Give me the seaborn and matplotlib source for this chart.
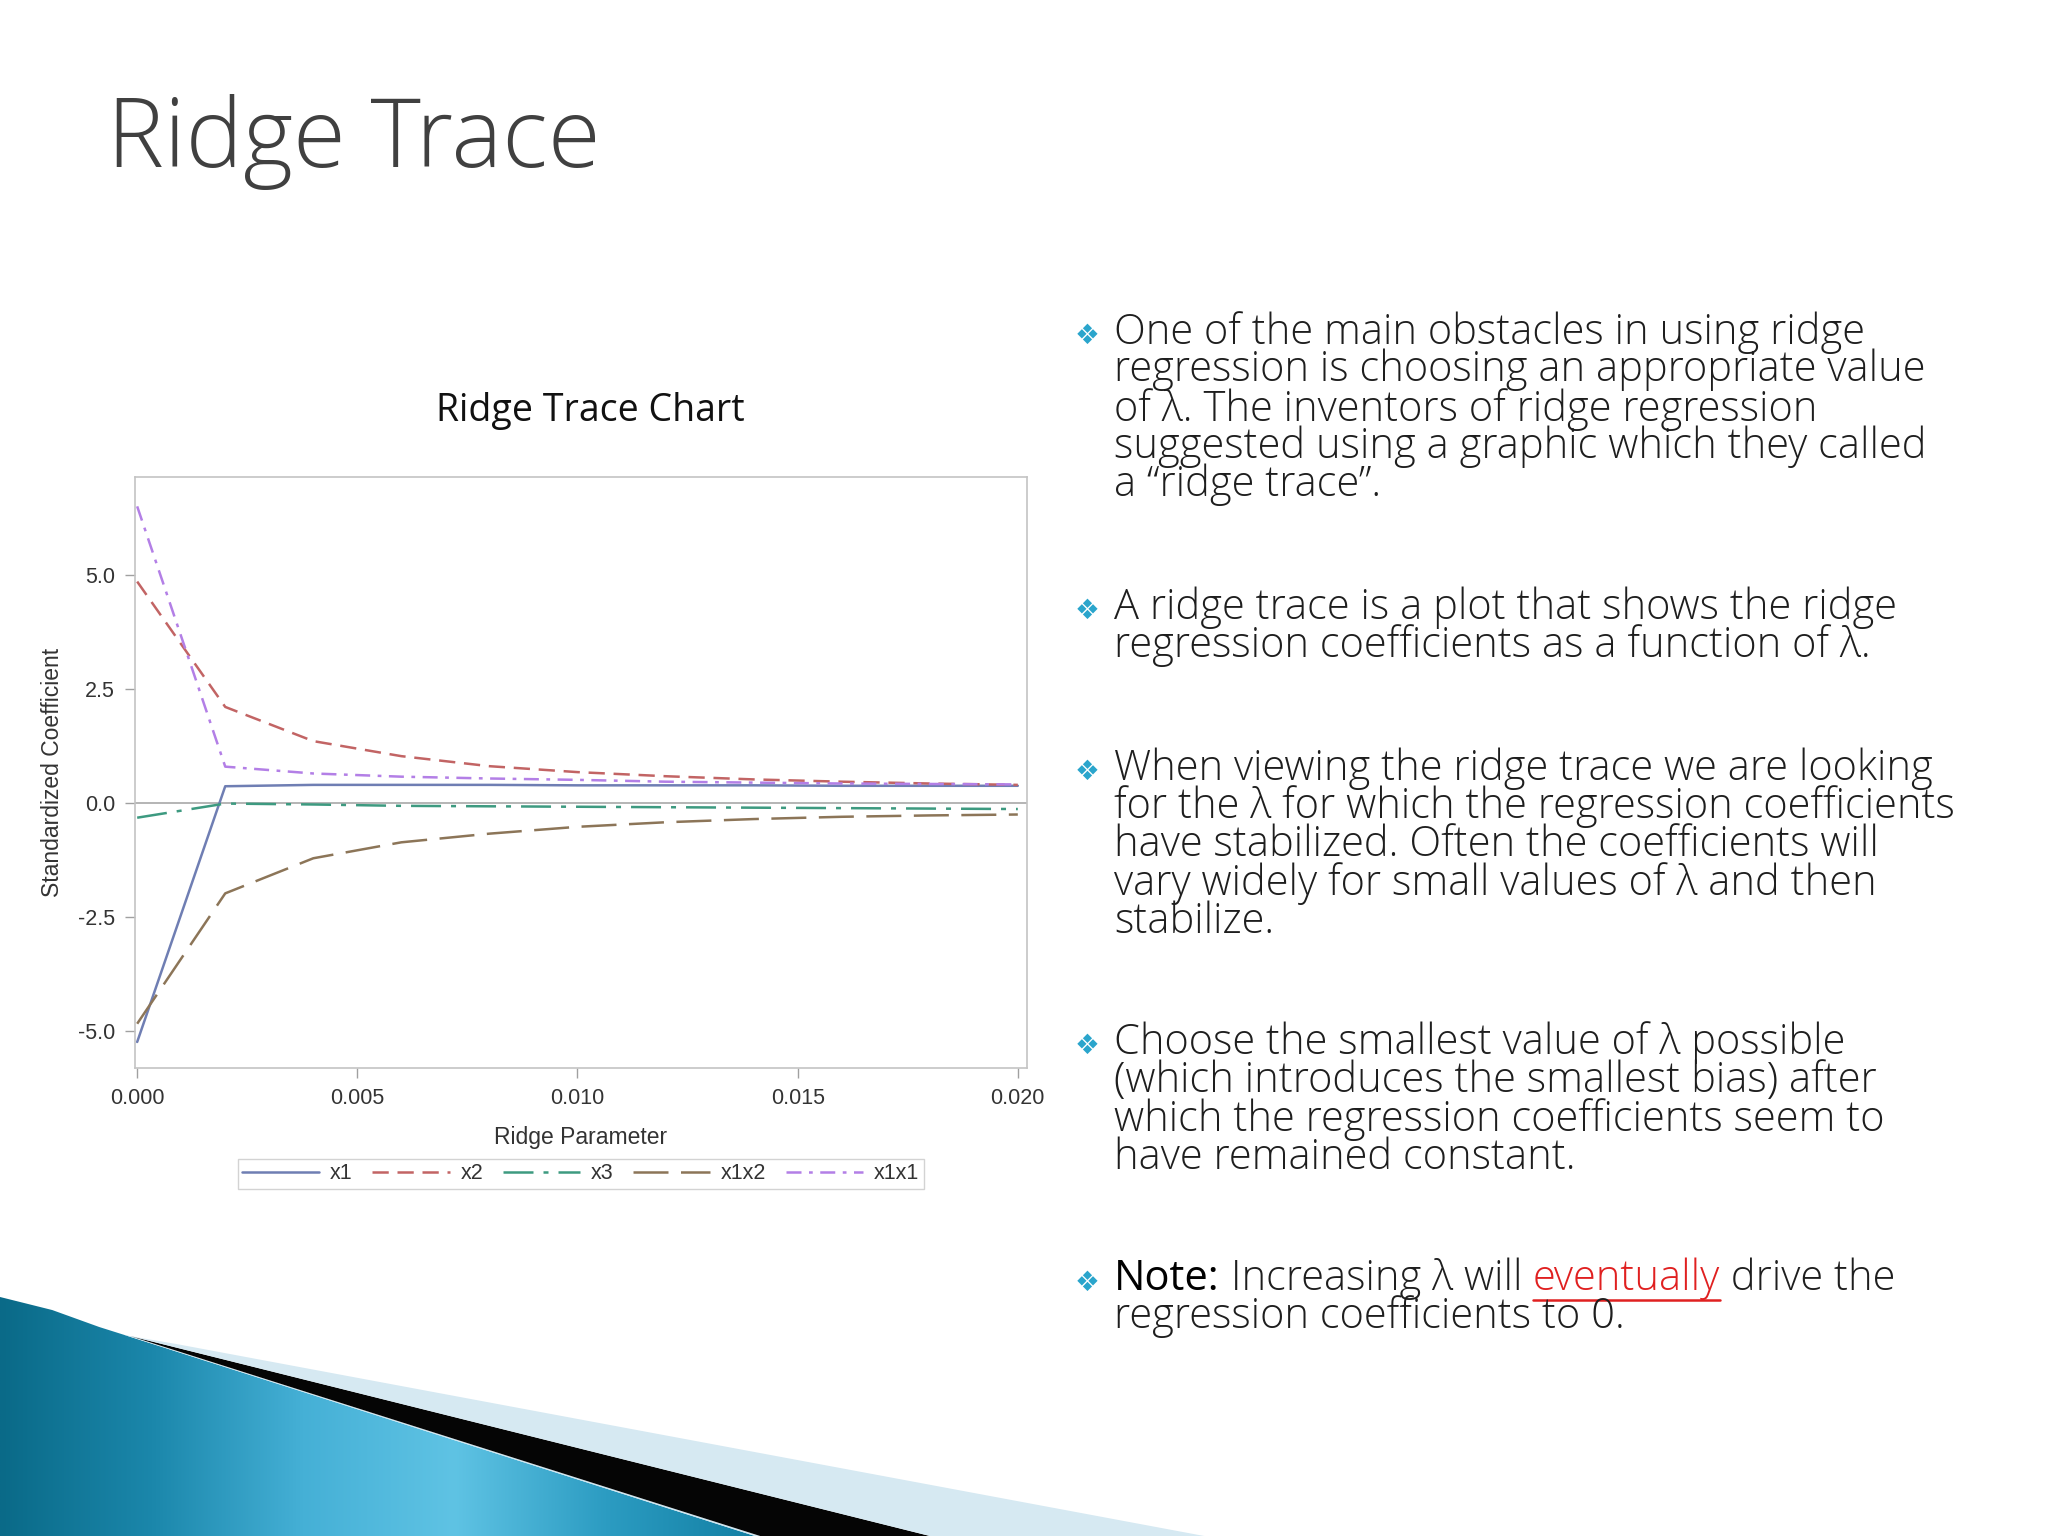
import numpy as np
import pandas as pd
import matplotlib
matplotlib.use("Agg")
import matplotlib.pyplot as plt
import seaborn as sns
from matplotlib.patches import Polygon

# Ridge trace values
ridge = [0.000, 0.002, 0.004, 0.006, 0.008, 0.010, 0.012, 0.014, 0.016, 0.018, 0.020]
x1 = [-5.25, 0.36, 0.39, 0.39, 0.39, 0.38, 0.38, 0.38, 0.37, 0.37, 0.37]
x2 = [4.85, 2.10, 1.35, 1.02, 0.80, 0.67, 0.58, 0.51, 0.46, 0.42, 0.39]
x3 = [-0.33, -0.02, -0.04, -0.07, -0.08, -0.09, -0.10, -0.11, -0.12, -0.13, -0.14]
x1x2 = [-4.85, -1.99, -1.22, -0.87, -0.68, -0.53, -0.43, -0.36, -0.31, -0.28, -0.26]
x1x1 = [6.50, 0.79, 0.64, 0.57, 0.53, 0.50, 0.46, 0.44, 0.42, 0.41, 0.40]
names = ["x1", "x2", "x3", "x1x2", "x1x1"]

xticks = [0.000, 0.005, 0.010, 0.015, 0.020]
yticks = [-5.0, -2.5, 0.0, 2.5, 5.0]

bullets = [
    ["One of the main obstacles in using ridge",
     "regression is choosing an appropriate value",
     "of λ. The inventors of ridge regression",
     "suggested using a graphic which they called",
     "a “ridge trace”."],
    ["A ridge trace is a plot that shows the ridge",
     "regression coefficients as a function of λ."],
    ["When viewing the ridge trace we are looking",
     "for the λ for which the regression coefficients",
     "have stabilized. Often the coefficients will",
     "vary widely for small values of λ and then",
     "stabilize."],
    ["Choose the smallest value of λ possible",
     "(which introduces the smallest bias) after",
     "which the regression coefficients seem to",
     "have remained constant."],
]
bullet_y = [[253, 282, 312, 341, 370], [464, 493], [587, 616, 645, 675, 704], [797, 826, 856, 885]]
note_y = [978, 1007]

df = pd.DataFrame({"Ridge": ridge * 5,
                   "Coef": x1 + x2 + x3 + x1x2 + x1x1,
                   "Var": sum([[n] * len(ridge) for n in names], [])})

sns.set_style("white")
plt.rcParams["font.family"] = ["Liberation Sans", "DejaVu Sans"]
plt.rcParams["axes.unicode_minus"] = False

fig = plt.figure(figsize=(20.48, 15.36), dpi=100)

# background layer in slide pixel units (1568 x 1176)
bg = fig.add_axes([0, 0, 1, 1])
bg.set_xlim(0, 1568)
bg.set_ylim(1176, 0)
bg.axis("off")

slide_font = ["Open Sans", "DejaVu Sans"]
bg.text(82, 128, "Ridge Trace", fontsize=69, color="#404040", family=slide_font,
        fontweight="light", va="baseline")
bg.text(452, 315, "Ridge Trace Chart", fontsize=27, color="#111111", family=slide_font,
        ha="center", va="center")

fs_body = 30
body = dict(fontsize=fs_body, color="#1e1e1e", family=slide_font, fontweight="light", va="baseline")
bul = dict(fontsize=20, color="#2aa5cc", family=["DejaVu Sans"], va="center", ha="center")
for lines, ys in zip(bullets, bullet_y):
    bg.text(832, ys[0] + 4, "❖", **bul)
    for line, y in zip(lines, ys):
        bg.text(853, y + 10, line, **body)

# last bullet with mixed styling
bg.text(832, note_y[0] + 4, "❖", **bul)
renderer = fig.canvas.get_renderer()
inv = bg.transData.inverted()
xpos = 853
pieces = [("Note:", "#000000", "normal", False), (" Increasing λ will ", "#1e1e1e", "light", False),
          ("eventually", "#e02020", "light", True), (" drive the", "#1e1e1e", "light", False)]
for txt, col, wt, under in pieces:
    t = bg.text(xpos, note_y[0] + 10, txt, fontsize=fs_body, color=col, family=slide_font,
                fontweight=wt, va="baseline")
    bb = t.get_window_extent(renderer)
    (x0, _), (x1e, _) = inv.transform([[bb.x0, bb.y0], [bb.x1, bb.y1]])
    if under:
        bg.plot([x0, x1e], [note_y[0] + 17, note_y[0] + 17], color=col, lw=1.8)
    xpos = x1e
bg.text(853, note_y[1] + 10, "regression coefficients to 0.", **body)

# decorative swoosh, bottom left
teal = Polygon([(0, 993), (40, 1003), (76, 1016), (95, 1022), (578, 1176), (0, 1176)],
               closed=True, facecolor="none", edgecolor="none")
bg.add_patch(teal)
grad = np.linspace(0, 1, 256).reshape(1, -1)
cmap = matplotlib.colors.LinearSegmentedColormap.from_list(
    "teal", ["#0a6a88", "#1b87ab", "#45b0d6", "#5fc3e4", "#2c9cc2", "#127fa3"])
im = bg.imshow(grad, extent=(0, 580, 1176, 990), cmap=cmap, aspect="auto", zorder=1)
im.set_clip_path(teal)
bg.add_patch(Polygon([(95, 1022), (100, 1023), (582, 1176), (578, 1176)], closed=True,
                     facecolor="#cfe6f0", edgecolor="none", zorder=2))
bg.add_patch(Polygon([(100, 1023), (712, 1176), (582, 1176)], closed=True,
                     facecolor="#050505", edgecolor="none", zorder=2))
bg.add_patch(Polygon([(100, 1023), (135, 1029), (922, 1176), (712, 1176)], closed=True,
                     facecolor="#d6e9f2", edgecolor="none", zorder=2))

# chart
ax = fig.add_axes([103 / 1568, 1 - 818 / 1176, 683 / 1568, 453 / 1176])
palette = {"x1": "#6f7eb3", "x2": "#c26464", "x3": "#3d9a80", "x1x2": "#8c7558", "x1x1": "#b37fe6"}
dashes = {"x1": "", "x2": (6.5, 3.5), "x3": (12, 4, 2, 4), "x1x2": (14, 5), "x1x1": (6, 3, 1.5, 3)}
ax.axhline(0, color="#a8a8a8", lw=1.2, zorder=1)
sns.lineplot(data=df, x="Ridge", y="Coef", hue="Var", style="Var", palette=palette,
             dashes=dashes, lw=1.8, ax=ax, zorder=3)

ax.set_xlim(-0.00006, 0.0202)
ax.set_ylim(-5.83, 7.15)
ax.set_xticks(xticks)
ax.set_xticklabels([f"{v:.3f}" for v in xticks])
ax.set_yticks(yticks)
ax.set_yticklabels([f"{v:.1f}" for v in yticks])
ax.tick_params(axis="both", which="both", direction="out", length=7, width=1,
               color="#a0a0a0", labelsize=15.5, labelcolor="#333333", left=True, bottom=True, pad=7)
for sp in ax.spines.values():
    sp.set_color("#c4c4c4")
    sp.set_linewidth(1.2)
ax.set_xlabel("Ridge Parameter", fontsize=16.5, color="#333333", labelpad=12)
ax.set_ylabel("Standardized Coefficient", fontsize=16.5, color="#333333", labelpad=10)

sns.move_legend(ax, "center", bbox_to_anchor=(0.5, -0.178), ncol=5, title=None,
                frameon=True, fontsize=15.5, handlelength=3.6, columnspacing=0.9,
                handletextpad=0.5, borderpad=0.2, fancybox=False, edgecolor="#c8c8c8")
for t in ax.get_legend().get_texts():
    t.set_color("#333333")

plt.savefig("out.png", dpi=100)
